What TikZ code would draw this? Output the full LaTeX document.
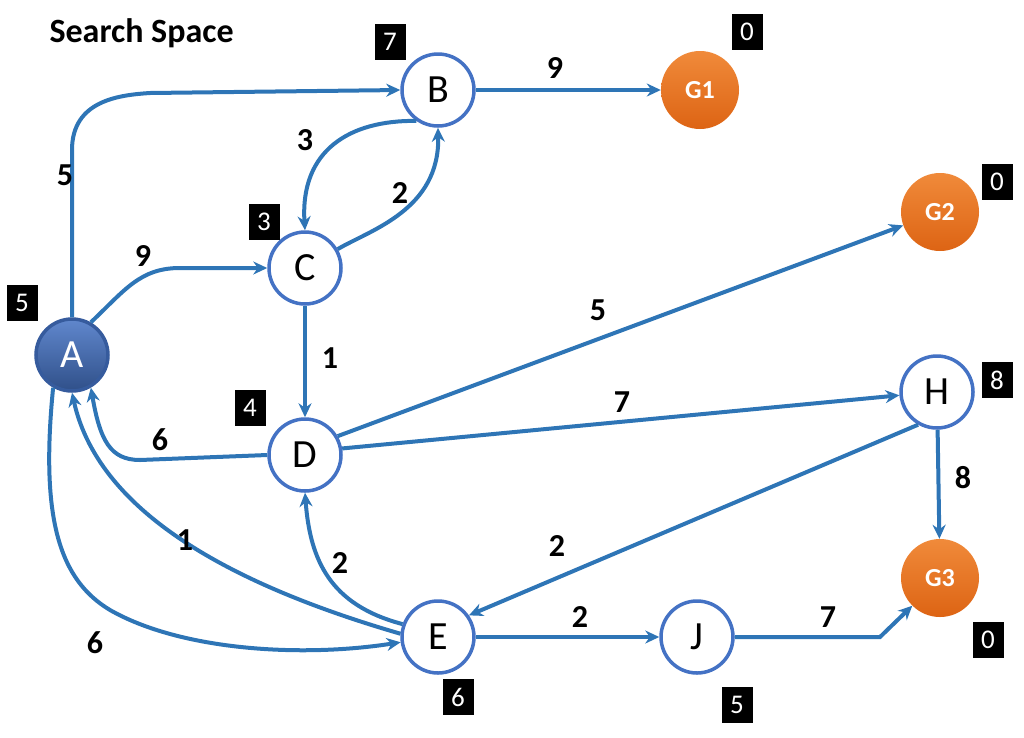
\documentclass[tikz,border=0pt]{standalone}
\usepackage{fontspec}
\setmainfont{Carlito}
\usetikzlibrary{arrows.meta}
\definecolor{eb}{HTML}{2E75B6}
\definecolor{nb}{HTML}{4472C4}
\definecolor{og}{HTML}{F08A3A}
\definecolor{ogd}{HTML}{DD6414}
\begin{document}
\begin{tikzpicture}[x=1pt,y=-1pt,
  st/.style={circle,draw=nb,line width=3.5pt,fill=white,minimum size=72pt,inner sep=0pt,font=\fontsize{40}{40}\selectfont},
  gl/.style={circle,minimum size=78pt,inner sep=0pt,top color=og,bottom color=ogd,text=white,font=\bfseries\fontsize{26}{26}\selectfont},
  hb/.style={fill=black,text=white,minimum width=31pt,minimum height=36pt,inner sep=0pt,font=\fontsize{27}{27}\selectfont},
  ed/.style={draw=eb,line width=4pt,-{Stealth[length=14pt,width=13pt]}},
  lb/.style={font=\bfseries\fontsize{32}{32}\selectfont}]
\useasboundingbox (0,0) rectangle (1024,737);
\node[font=\bfseries\fontsize{34}{34}\selectfont,anchor=west] (t) at (46,33) {Search Space};
\node[st,draw=nb!80!black,top color=nb!85!white,bottom color=nb!70!black,text=white] (A) at (72,355) {A};
\node[st] (B) at (438,90) {B};
\node[st] (C) at (305,268) {C};
\node[st] (D) at (305,455) {D};
\node[st] (E) at (438,637) {E};
\node[st] (J) at (697,637) {J};
\node[st] (H) at (937,392) {H};
\node[gl] (G1) at (700,90) {G1};
\node[gl] (G2) at (940,212) {G2};
\node[gl] (G3) at (940,578) {G3};
\node[hb] (hB) at (390,42) {7};
\node[hb] (hG1) at (747,32) {0};
\node[hb] (hG2) at (997,182) {0};
\node[hb] (hC) at (264,222) {3};
\node[hb] (hA) at (22,303) {5};
\node[hb] (hD) at (250,408) {4};
\node[hb] (hH) at (997,380) {8};
\node[hb] (hG3) at (988,640) {0};
\node[hb] (hE) at (458,697) {6};
\node[hb] (hJ) at (737,705) {5};
\draw[ed] (A.north) -- (72,150) .. controls (72,100) and (120,95) .. (150,93) -- (B.west);
\draw[ed] (A.60) .. controls (125,290) and (140,268) .. (180,268) -- (C.west);
\draw[ed] (B.235) .. controls (350,120) and (300,150) .. (C.north);
\draw[ed] (C.30) .. controls (370,230) and (440,210) .. (B.south);
\draw[ed] (C) -- (D);
\draw[ed] (D.west) -- (140,460) .. controls (110,460) and (100,440) .. (A.300);
\draw[ed] (D.30) -- (G2.200);
\draw[ed] (D.10) -- (H.185);
\draw[ed] (H) -- (G3);
\draw[ed] (H.240) -- (E.35);
\draw[ed] (E.160) .. controls (330,605) and (310,560) .. (D.south);
\draw[ed] (E.175) .. controls (250,590) and (100,520) .. (A.south);
\draw[ed] (A.240) .. controls (40,520) and (60,580) .. (110,610) .. controls (180,650) and (300,658) .. (E.188);
\draw[ed] (E) -- (J);
\draw[ed] (J.east) -- (880,637) -- (G3.225);
\draw[ed] (B) -- (G1);
\node[lb] at (65,175) {5};
\node[lb] at (143,256) {9};
\node[lb] at (305,140) {3};
\node[lb] at (400,193) {2};
\node[lb] at (330,358) {1};
\node[lb] at (160,440) {6};
\node[lb] at (598,310) {5};
\node[lb] at (622,402) {7};
\node[lb] at (963,478) {8};
\node[lb] at (557,546) {2};
\node[lb] at (340,563) {2};
\node[lb] at (185,540) {1};
\node[lb] at (95,643) {6};
\node[lb] at (580,617) {2};
\node[lb] at (828,617) {7};
\node[lb] at (555,68) {9};
\end{tikzpicture}
\end{document}
